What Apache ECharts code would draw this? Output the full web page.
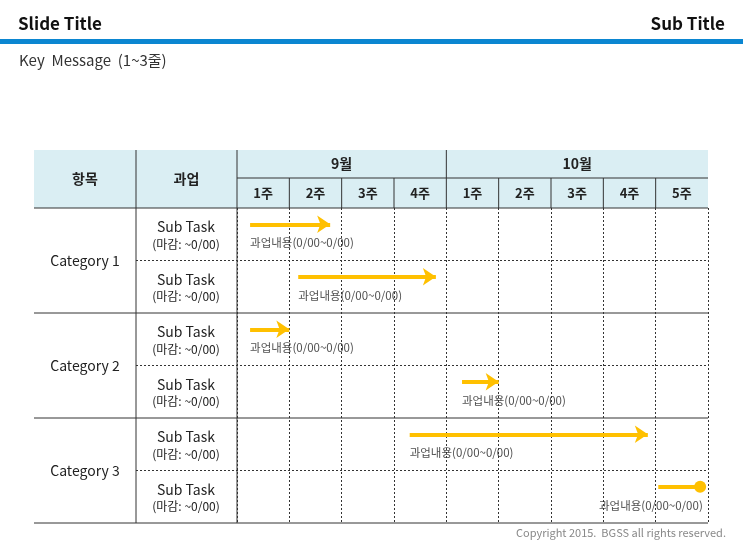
<!DOCTYPE html>
<html><head><meta charset="utf-8">
<script src="https://cdn.jsdelivr.net/npm/echarts@6/dist/echarts.min.js"></script>
<style>html,body{margin:0;padding:0;background:#fff}#main{width:743px;height:557px}</style>
</head><body><div id="main"></div>
<script>
var months = ['9월', '10월'];
var weeks = ['1주', '2주', '3주', '4주', '1주', '2주', '3주', '4주', '5주'];
var categories = ['Category 1', 'Category 2', 'Category 3'];
var taskNames = ['Sub Task', 'Sub Task', 'Sub Task', 'Sub Task', 'Sub Task', 'Sub Task'];
var taskDue = ['(마감: ~0/00)', '(마감: ~0/00)', '(마감: ~0/00)', '(마감: ~0/00)', '(마감: ~0/00)', '(마감: ~0/00)'];
// start / end in weeks from 9월 1주
var taskStart = [0.25, 1.17, 0.25, 4.3, 3.3, 8.05];
var taskEnd = [1.78, 3.8, 1.0, 5.0, 7.85, 8.85];
var taskLabel = '과업내용(0/00~0/00)';

var F = '"Noto Sans CJK KR", "Noto Sans", sans-serif';
var L = 34, R = 708, C1 = 136, C2 = 237, HT = 150, HM = 178, HB = 208, RH = 52.5;
var colW = (R - C2) / 9;
var XMAX = 8.999;

var g = [];
function txt(x, y, s, o) {
  o = o || {};
  g.push({type: 'text', x: x, y: y, z: 10, style: {text: s, font: (o.w || 'normal') + ' ' + (o.s || 13) + 'px ' + F,
    fill: o.c || '#222', textAlign: o.a || 'center', textVerticalAlign: 'middle'}});
}
function ln(x1, y1, x2, y2, c, dash, w) {
  g.push({type: 'line', z: 10, shape: {x1: x1, y1: y1, x2: x2, y2: y2},
    style: {stroke: c || '#333', lineWidth: w || 1, lineDash: dash ? [2, 2] : null}});
}
// header
txt(18, 24, 'Slide Title', {a: 'left', w: 'bold', s: 17, c: '#111'});
txt(725, 24, 'Sub Title', {a: 'right', w: 'bold', s: 17, c: '#111'});
g.push({type: 'rect', shape: {x: 0, y: 39, width: 743, height: 5}, style: {fill: '#0b86d1'}});
txt(19, 60, 'Key  Message  (1~3줄)', {a: 'left', s: 15, c: '#333'});
txt(726, 533, 'Copyright 2015.  BGSS all rights reserved.', {a: 'right', s: 11, c: '#888'});
// table header
g.push({type: 'rect', shape: {x: L, y: HT, width: R - L, height: HB - HT}, style: {fill: '#daeef3'}});
txt((L + C1) / 2, 179, '항목', {w: 'bold', s: 14});
txt((C1 + C2) / 2, 179, '과업', {w: 'bold', s: 14});
txt(C2 + colW * 2, 164, months[0], {w: 'bold', s: 14});
txt(C2 + colW * 6.5, 164, months[1], {w: 'bold', s: 14});
weeks.forEach(function (w, i) { txt(C2 + colW * (i + 0.5), 193, w, {w: 'bold', s: 13}); });
ln(C2, HM, R, HM, '#333');
ln(C2 + colW * 4, HT, C2 + colW * 4, HB, '#333');
for (var i = 1; i < 9; i++) if (i !== 4) ln(C2 + colW * i, HM, C2 + colW * i, HB, '#333');
ln(C1, HT, C1, HB + RH * 6, '#333');
ln(C2, HT, C2, HB + RH * 6, '#333');
ln(L, HB, R, HB, '#333');
ln(L, HB + RH * 6, R, HB + RH * 6, '#333');
for (var k = 1; k < 6; k++) {
  if (k % 2 === 0) ln(L, HB + RH * k, R, HB + RH * k, '#333');
  else ln(C1, HB + RH * k, R, HB + RH * k, '#333', true);
}
categories.forEach(function (c, i) { txt((L + C1) / 2, HB + RH * (2 * i + 1), c, {s: 14}); });
taskNames.forEach(function (t, i) {
  txt(186, HB + RH * i + 19, t, {s: 14});
  txt(186, HB + RH * i + 36, taskDue[i], {s: 12});
});

var lineData = [], labelData = [];
taskStart.forEach(function (s, i) {
  lineData.push({coords: [[s, i + 0.31], [taskEnd[i], i + 0.31]],
    symbol: i === 5 ? ['none', 'circle'] : ['none', 'arrow'], symbolSize: i === 5 ? 12 : 13});
  labelData.push(i === 5 ? {value: [taskEnd[i] + 0.05, i + 0.66], label: {align: 'right'}} : {value: [s, i + 0.66]});
});

var chart = echarts.init(document.getElementById('main'));
chart.setOption({
  animation: false,
  grid: {left: C2, top: HB, width: colW * XMAX, height: RH * 6},
  xAxis: {type: 'value', min: 0, max: XMAX, interval: 1, axisLabel: {show: false}, axisLine: {show: false}, axisTick: {show: false},
    splitLine: {lineStyle: {color: '#333', type: [2, 2]}}},
  yAxis: {type: 'value', inverse: true, min: 0, max: 6, interval: 1, axisLabel: {show: false}, axisLine: {show: false},
    axisTick: {show: false}, splitLine: {show: false}},
  graphic: g,
  series: [
    {type: 'lines', coordinateSystem: 'cartesian2d', lineStyle: {color: '#ffc000', width: 4, opacity: 1}, data: lineData, z: 5},
    {type: 'scatter', symbolSize: 0, data: labelData, z: 6,
      label: {show: true, position: 'inside', align: 'left', formatter: taskLabel, color: '#222', fontSize: 11.5, fontFamily: F}}
  ]
});
</script></body></html>
